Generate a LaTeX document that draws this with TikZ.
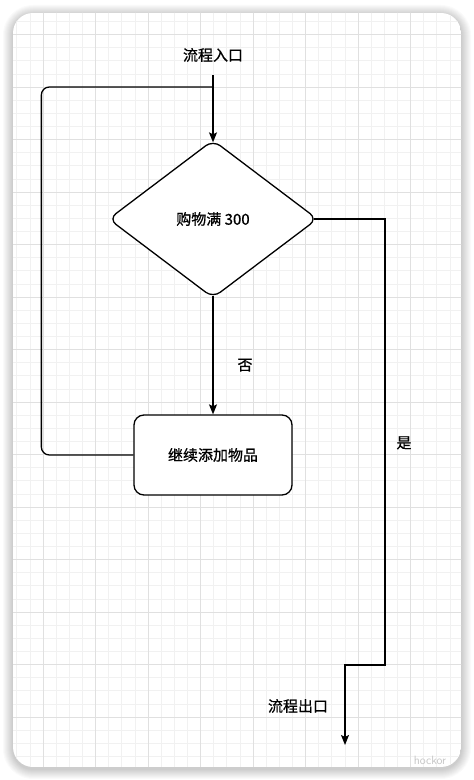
\documentclass[tikz,border=0pt]{standalone}
\usepackage{fontspec}
\usepackage{tikz}
\usetikzlibrary{shapes.geometric, arrows.meta, calc}
\newfontfamily\cjk{Noto Sans CJK SC}[BoldFont=Noto Sans CJK SC, BoldFeatures={FakeBold=0.7}]
\definecolor{minorgrid}{HTML}{F1F1F1}
\definecolor{majorgrid}{HTML}{E0E0E0}
\tikzstyle{txt} = [font=\cjk\bfseries\fontsize{15}{18}\selectfont, inner sep=2pt]
\tikzstyle{decision} = [font=\cjk\bfseries\fontsize{15}{18}\selectfont, diamond, rounded corners=9pt, minimum width=209pt, minimum height=158pt, inner sep=0pt, text centered, draw=black, line width=1.3pt, fill=white]
\tikzstyle{process} = [font=\cjk\bfseries\fontsize{15}{18}\selectfont, rectangle, rounded corners=10pt, minimum width=158pt, minimum height=80pt, text centered, draw=black, line width=1.3pt, fill=white]
\tikzstyle{line} = [line width=1.3pt]
\tikzstyle{arrow} = [line width=1.3pt, -{Stealth[length=10pt, width=8pt, inset=2pt]}]

\begin{document}
\begin{tikzpicture}[node distance=0pt]
  \useasboundingbox (0,0) rectangle (474pt,780pt);
  \fill[white] (0,0) rectangle (474pt,780pt);
  % card with shadow and grid
  \foreach \r in {1,...,10}
    \fill[black, opacity=0.018, rounded corners=20pt+\r*1pt] (13pt-\r*1pt,11pt-\r*1pt) rectangle (461pt+\r*1pt,765pt+\r*1pt);
  \begin{scope}
    \clip[rounded corners=20pt] (13pt,13pt) rectangle (461pt,767pt);
    \fill[white] (13pt,13pt) rectangle (461pt,767pt);
    \draw[minorgrid, line width=0.6pt, step=13.125pt, shift={(43pt,693pt)}] (-40pt,-690pt) grid (430pt,90pt);
    \draw[majorgrid, line width=0.7pt, step=52.5pt, shift={(43pt,693pt)}] (-40pt,-690pt) grid (430pt,90pt);
  \end{scope}

  \node (start) [txt] at (213pt,725pt) {流程入口};
  \coordinate (in) at ($(start)+(0,-20pt)$);
  \coordinate (join) at ($(start)+(0,-32pt)$);
  \node (check) [decision, below of=start, yshift=-164pt] {购物满 300};
  \node (add) [process, below of=check, yshift=-236pt] {继续添加物品};
  \node (done) [txt, below of=add, xshift=85pt, yshift=-251pt] {流程出口};
  \coordinate (out) at ($(done)+(47pt,-39pt)$);
  \coordinate (turn) at ($(out)+(40pt,80pt)$);
  \node (mark) [font=\sffamily\fontsize{12}{14}\selectfont, text=gray!45] at (430pt,20pt) {hockor};

  \draw[arrow, shorten >=-3pt] (in) -- (check.north);
  \draw[line, rounded corners=8pt] (add.west) -- ++(-92pt,0) |- (join);
  \draw[arrow, shorten <=-3pt] (check.south) -- node[txt, pos=0.575, xshift=32pt]{否} (add.north);
  \draw[arrow, shorten <=-4pt] (check.east) -| node[txt, pos=0.751, xshift=19pt]{是} (turn) -| (out);
\end{tikzpicture}
\end{document}
